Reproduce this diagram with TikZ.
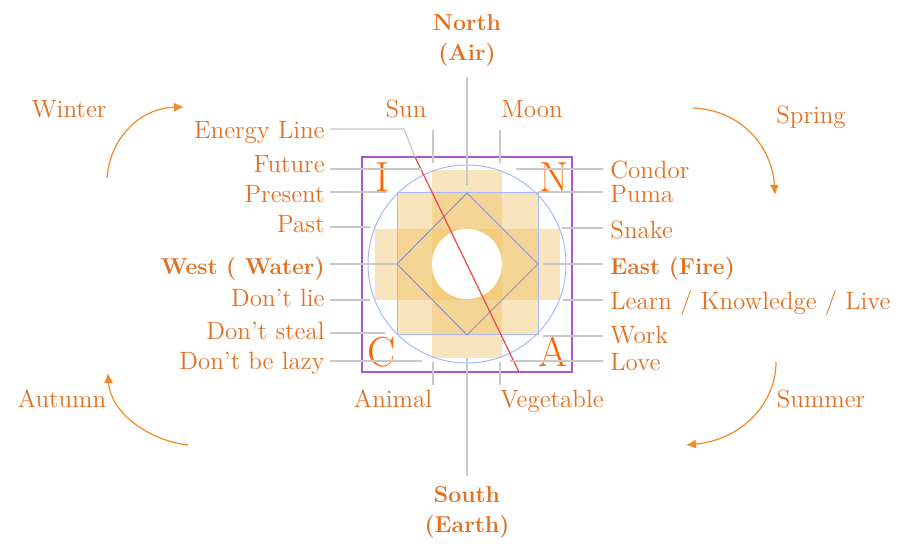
\documentclass[tikz,border=0pt]{standalone}
\usepackage{tikz}
\usetikzlibrary{arrows.meta}
\definecolor{inkorange}{RGB}{226,112,32}
\definecolor{letterorange}{RGB}{255,102,0}
\definecolor{arroworange}{RGB}{236,140,42}
\definecolor{leadergrey}{RGB}{200,200,200}
\definecolor{crossyellow}{RGB}{240,190,90}
\definecolor{ringblue}{RGB}{168,184,250}
\definecolor{diamondblue}{RGB}{140,140,205}
\definecolor{framepurple}{RGB}{168,88,208}
\definecolor{energyred}{RGB}{240,70,70}

\begin{document}
\begin{tikzpicture}[x=0.5pt,y=-0.5pt]
\tikzstyle{label}=[text=inkorange,font=\fontsize{12.5}{15}\selectfont,inner sep=0pt]
\tikzstyle{heading}=[text=inkorange,font=\fontsize{11.5}{15}\selectfont\bfseries,inner sep=0pt,align=center]
\tikzstyle{letter}=[text=letterorange,font=\fontsize{21}{25}\selectfont,inner sep=0pt]
\tikzstyle{leader}=[draw=leadergrey,line width=0.6pt]
\tikzstyle{season}=[draw=arroworange,line width=0.6pt,-{Latex[length=5pt,width=4.5pt]}]
\tikzstyle{layer}=[fill=crossyellow,fill opacity=0.4]
\useasboundingbox (0,0) rectangle (906,550);

% the chakana
\coordinate (c) at (467,264);
\fill [layer] (397,193) rectangle (538,335);
\fill [layer] (432,170) rectangle (502,358);
\fill [layer] (375,229) rectangle (560,300);
\fill [white] (c) circle [radius=35];
\draw [ringblue,line width=0.5pt] (c) circle [radius=99];
\draw [ringblue,line width=0.5pt] (397,193) rectangle (538,335);
\draw [diamondblue,line width=0.5pt] (467,193) -- (538,264) -- (467,335) -- (397,264) -- cycle;
\draw [framepurple,line width=1pt] (362,157) rectangle (572,372);

\node [letter] (i) at (382,177) {I};
\node [letter] (n) at (554,177) {N};
\node [letter] (cc) at (382,352) {C};
\node [letter] (a) at (553,352) {A};

% energy line
\coordinate (eltop) at (415,157);
\coordinate (elbot) at (519,372);
\coordinate (elbend) at (404,129);
\draw [energyred,line width=0.6pt] (eltop) -- (elbot);
\node [label,anchor=base east] (energy) at (325,139) {Energy Line};
\draw [leader,shorten <=2.5pt] (energy.east |- elbend) -- (elbend) -- (eltop);

% left side
\node [label,anchor=base east] (future) at (325,173) {Future};
\node [label,anchor=base east] (present) at (325,203) {Present};
\node [label,anchor=base east] (past) at (325,233) {Past};
\node [heading,anchor=base east] (west) at (325,275) {West ( Water)};
\node [label,anchor=base east] (lie) at (325,307) {Don’t lie};
\node [label,anchor=base east] (steal) at (325,340) {Don’t steal};
\node [label,anchor=base east] (lazy) at (325,370) {Don’t be lazy};
\coordinate (future-in) at (422,169);
\coordinate (present-in) at (387,192);
\coordinate (past-in) at (370,227);
\coordinate (west-in) at (397,264);
\coordinate (lie-in) at (370,300);
\coordinate (steal-in) at (385,333);
\coordinate (lazy-in) at (422,361);
\draw [leader,shorten <=2.5pt] (future.east |- future-in) -- (future-in);
\draw [leader,shorten <=2.5pt] (present.east |- present-in) -- (present-in);
\draw [leader,shorten <=2.5pt] (past.east |- past-in) -- (past-in);
\draw [leader,shorten <=2.5pt] (west.east |- west-in) -- (west-in);
\draw [leader,shorten <=2.5pt] (lie.east |- lie-in) -- (lie-in);
\draw [leader,shorten <=2.5pt] (steal.east |- steal-in) -- (steal-in);
\draw [leader,shorten <=2.5pt] (lazy.east |- lazy-in) -- (lazy-in);

% right side
\node [label,anchor=base west] (condor) at (610,179) {Condor};
\node [label,anchor=base west] (puma) at (610,203) {Puma};
\node [label,anchor=base west] (snake) at (610,239) {Snake};
\node [heading,anchor=base west] (east) at (610,275) {East (Fire)};
\node [label,anchor=base west] (learn) at (610,310) {Learn / Knowledge / Live};
\node [label,anchor=base west] (work) at (610,344) {Work};
\node [label,anchor=base west] (love) at (610,371) {Love};
\coordinate (condor-in) at (516,169);
\coordinate (puma-in) at (538,192);
\coordinate (snake-in) at (562,228);
\coordinate (east-in) at (543,264);
\coordinate (learn-in) at (563,300);
\coordinate (work-in) at (543,336);
\coordinate (love-in) at (510,361);
\draw [leader,shorten >=3.5pt] (condor-in) -- (condor-in -| condor.west);
\draw [leader,shorten >=3.5pt] (puma-in) -- (puma-in -| puma.west);
\draw [leader,shorten >=3.5pt] (snake-in) -- (snake-in -| snake.west);
\draw [leader,shorten >=3.5pt] (east-in) -- (east-in -| east.west);
\draw [leader,shorten >=3.5pt] (learn-in) -- (learn-in -| learn.west);
\draw [leader,shorten >=3.5pt] (work-in) -- (work-in -| work.west);
\draw [leader,shorten >=3.5pt] (love-in) -- (love-in -| love.west);

% top and bottom
\node [heading] (north) at (467,40) {North\\(Air)};
\node [heading] (south) at (467,512) {South\\(Earth)};
\coordinate (north-in) at (467,185);
\coordinate (south-in) at (467,358);
\draw [leader,shorten <=5.5pt] (north.south) -- (north-in);
\draw [leader,shorten <=5pt] (south.north) -- (south-in);

\node [label,anchor=base] (sun) at (406,118) {Sun};
\node [label,anchor=base] (moon) at (532,118) {Moon};
\node [label,anchor=base] (animal) at (393,408) {Animal};
\node [label,anchor=base] (vegetable) at (552,408) {Vegetable};
\coordinate (sun-in) at (433,163);
\coordinate (moon-in) at (500,163);
\coordinate (animal-in) at (433,362);
\coordinate (vegetable-in) at (500,362);
\draw [leader,shorten <=5.5pt] (sun.south -| sun-in) -- (sun-in);
\draw [leader,shorten <=5.5pt] (moon.south -| moon-in) -- (moon-in);
\draw [leader,shorten <=11.5pt] (animal.base -| animal-in) -- (animal-in);
\draw [leader,shorten <=11.5pt] (vegetable.base -| vegetable-in) -- (vegetable-in);

% seasons
\node [label,anchor=base] (winter) at (69,118) {Winter};
\node [label,anchor=base] (spring) at (811,124) {Spring};
\node [label,anchor=base] (summer) at (821,408) {Summer};
\node [label,anchor=base] (autumn) at (62,408) {Autumn};
\coordinate (w1) at (107,178);
\coordinate (w2) at (184,107);
\coordinate (s1) at (693,108);
\coordinate (s2) at (775,195);
\coordinate (m1) at (776,362);
\coordinate (m2) at (686,445);
\coordinate (a1) at (188,445);
\coordinate (a2) at (108,373);
\draw [season] (w1) .. controls (110,138) and (140,108) .. (w2);
\draw [season] (s1) .. controls (740,110) and (772,145) .. (s2);
\draw [season] (m1) .. controls (776,405) and (740,440) .. (m2);
\draw [season] (a1) .. controls (145,440) and (110,410) .. (a2);
\end{tikzpicture}
\end{document}
